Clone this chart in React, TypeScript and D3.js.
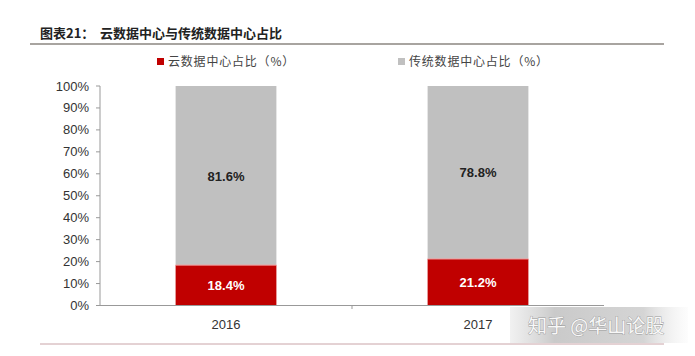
import React from "react";
import * as d3 from "d3";

const categories = ["2016", "2017"];
const cloudShare = [18.4, 21.2];
const traditionalShare = [81.6, 78.8];
const yTicks = [0, 10, 20, 30, 40, 50, 60, 70, 80, 90, 100];
const seriesNames = ["云数据中心占比（%）", "传统数据中心占比（%）"];
const titleLabel = "图表21：";
const titleText = "云数据中心与传统数据中心占比";

const W = 695;
const H = 356;
const RED = "#c00000";
const GRAY = "#c0c0c0";

export default function App() {
  const x = d3.scaleBand<string>().domain(categories).range([100, 604]).paddingInner(0.6).paddingOuter(0.3);
  const y = d3.scaleLinear().domain([0, 100]).range([305.5, 86]);
  const latin = "Arial, 'Liberation Sans', sans-serif";
  const cjk = "'Noto Sans CJK SC', sans-serif";

  return (
    <svg width={W} height={H} style={{ position: "absolute", left: 0, top: 0, background: "#fff" }}>
      <defs>
        <linearGradient id="wm" x1="0" x2="1" y1="0" y2="0">
          <stop offset="0" stopColor="#d0d0d0" stopOpacity="0.3" />
          <stop offset="0.25" stopColor="#c4c4c4" stopOpacity="0.9" />
          <stop offset="0.75" stopColor="#cacaca" stopOpacity="0.8" />
          <stop offset="1" stopColor="#e6e6e6" stopOpacity="0.1" />
        </linearGradient>
      </defs>
      {/* title */}
      <text x={40} y={38} fontFamily={cjk} fontWeight="bold" fontSize={13} fill="#222">{titleLabel}</text>
      <text x={100} y={38} fontFamily={cjk} fontWeight="bold" fontSize={13} fill="#222">{titleText}</text>
      <line x1={30} x2={664} y1={44} y2={44} stroke="#a8a4a0" strokeWidth={2} />

      {/* legend */}
      <rect x={157} y={58} width={7} height={7} fill={RED} />
      <text x={168} y={66} fontFamily={cjk} fontSize={12} letterSpacing={0.8} fill="#444">{seriesNames[0]}</text>
      <rect x={398} y={58} width={7} height={7} fill={GRAY} />
      <text x={409} y={66} fontFamily={cjk} fontSize={12} letterSpacing={0.8} fill="#444">{seriesNames[1]}</text>

      {/* y axis */}
      <line x1={100} x2={100} y1={y(100)} y2={y(0)} stroke="#999" strokeWidth={1} />
      {yTicks.map((t) => (
        <g key={t}>
          <line x1={96} x2={100} y1={y(t)} y2={y(t)} stroke="#999" />
          <text x={89} y={y(t) + 4.5} textAnchor="end" fontFamily={latin} fontSize={13} fill="#333">{t}%</text>
        </g>
      ))}

      {/* bars */}
      {categories.map((c, i) => {
        const x0 = x(c)!;
        const bw = x.bandwidth();
        const c1 = cloudShare[i];
        const c2 = traditionalShare[i];
        return (
          <g key={c}>
            <rect x={x0} y={y(c1 + c2)} width={bw} height={y(c1) - y(c1 + c2)} fill={GRAY} />
            <rect x={x0} y={y(c1)} width={bw} height={y(0) - y(c1)} fill={RED} />
            <line x1={x0} x2={x0 + bw} y1={y(c1)} y2={y(c1)} stroke="#f4a0a0" strokeWidth={1} />
            <text x={x0 + bw / 2} y={(y(c1) + y(0)) / 2 + 5} textAnchor="middle" fontFamily={latin} fontWeight="bold" fontSize={13} fill="#fff">{c1.toFixed(1)}%</text>
            <text x={x0 + bw / 2} y={(y(c1 + c2) + y(c1)) / 2 + 5} textAnchor="middle" fontFamily={latin} fontWeight="bold" fontSize={13} fill="#222">{c2.toFixed(1)}%</text>
            <text x={x0 + bw / 2} y={329} textAnchor="middle" fontFamily={latin} fontSize={13} fill="#333">{c}</text>
          </g>
        );
      })}

      {/* x axis */}
      <line x1={100} x2={604} y1={305.5} y2={305.5} stroke="#999" strokeWidth={1} />
      <line x1={352} x2={352} y1={305.5} y2={309} stroke="#999" />

      {/* bottom line */}
      <line x1={40} x2={664} y1={344} y2={344} stroke="#c9a4a8" strokeWidth={1} />

      {/* watermark */}
      <rect x={510} y={307} width={178} height={36} fill="url(#wm)" />
      <text x={528} y={333} fontFamily={cjk} fontSize={19} fill="#f8f8f8" stroke="#9a9a9a" strokeWidth={0.8} paintOrder="stroke">知乎 @华山论股</text>
    </svg>
  );
}
